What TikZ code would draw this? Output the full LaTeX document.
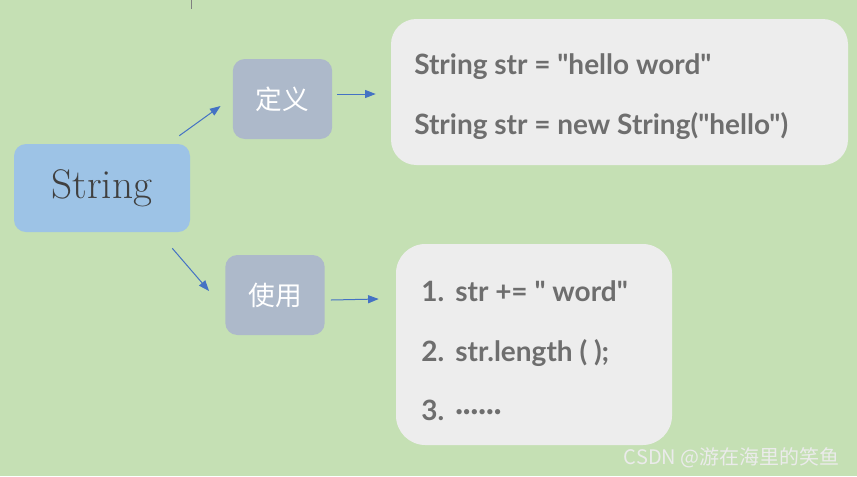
\documentclass[tikz,border=0pt]{standalone}
\usepackage{fontspec}
\newfontfamily\codefont{Lato}
\newfontfamily\cjk{Noto Sans CJK SC}
\definecolor{bggreen}{HTML}{C5E0B4}
\definecolor{strblue}{HTML}{9DC3E6}
\definecolor{stepgray}{HTML}{ADB9CA}
\definecolor{boxgray}{HTML}{EDEDED}
\definecolor{txtgray}{HTML}{6E6E6E}
\definecolor{arrblue}{HTML}{4472C4}
\usetikzlibrary{arrows.meta}
\tikzset{
  stepbox/.style={fill=stepgray, rounded corners=9pt, inner sep=0pt,
    minimum width=74.5pt, minimum height=60pt, text=white,
    font=\cjk\fontsize{20}{23}\selectfont},
  codebox/.style={fill=boxgray, inner sep=0pt},
  codetext/.style={anchor=base west, inner sep=0pt, text=txtgray,
    font=\codefont\bfseries\fontsize{21}{25}\selectfont},
  arr/.style={arrblue, line width=0.75pt, -{Triangle[length=8pt,width=6pt]}}
}
\begin{document}
\begin{tikzpicture}[x=0.75pt, y=-0.75pt]
        \fill[bggreen] (0,0) rectangle (857,476);
        \useasboundingbox (0,0) rectangle (857,476);
        \draw[gray, line width=0.6pt] (191,0) -- (191,9);

        \node[fill=strblue, rounded corners=9pt, inner sep=0pt,
              minimum width=132pt, minimum height=66pt,
              text={rgb,255:red,64;green,64;blue,64},
              font=\fontsize{31}{34}\selectfont] (str) at (102,188) {String};
        \node[stepbox] (def) at (282.5,99) {定义};
        \node[stepbox] (use) at (275,295) {使用};

        \node[codebox, rounded corners=19pt, minimum width=342.75pt,
              minimum height=109.5pt] (defbox) at (619.5,92) {};
        \node[codetext] (defa) at (414,74) {String str = "hello word"};
        \node[codetext] (defb) at (414,134) {String str = new String("hello")};

        \node[codebox, rounded corners=22pt, minimum width=207pt,
              minimum height=150.75pt] (usebox) at (534,344.5) {};
        \node[codetext] (usea) at (421,301) {1.};
        \node[codetext] (useb) at (421,361) {2.};
        \node[codetext] (usec) at (421,420) {3.};
        \node[codetext] at (455,301) {str += " word"};
        \node[codetext] at (455,361) {str.length ( );};
        \node[codetext] at (455,420) {\textperiodcentered\textperiodcentered\textperiodcentered\textperiodcentered\textperiodcentered\textperiodcentered};

        \draw[arr] ([shift={(-11,-8)}]str.north east) -- ([shift={(-12,7)}]def.west);
        \draw[arr] ([shift={(5,-5)}]def.east) -- ([shift={(-15,2)}]defbox.west);
        \draw[arr] ([shift={(-18,16)}]str.south east) -- ([shift={(-16,-4)}]use.west);
        \draw[arr] ([shift={(6,5)}]use.east) -- ([shift={(-17,-45.5)}]usebox.west);

        \node[anchor=base east, inner sep=0pt, text={rgb,255:red,235;green,235;blue,235},
              font=\cjk\fontsize{15}{17}\selectfont] (mark) at (840,464) {CSDN @游在海里的笑鱼};
    \end{tikzpicture}
\end{document}
